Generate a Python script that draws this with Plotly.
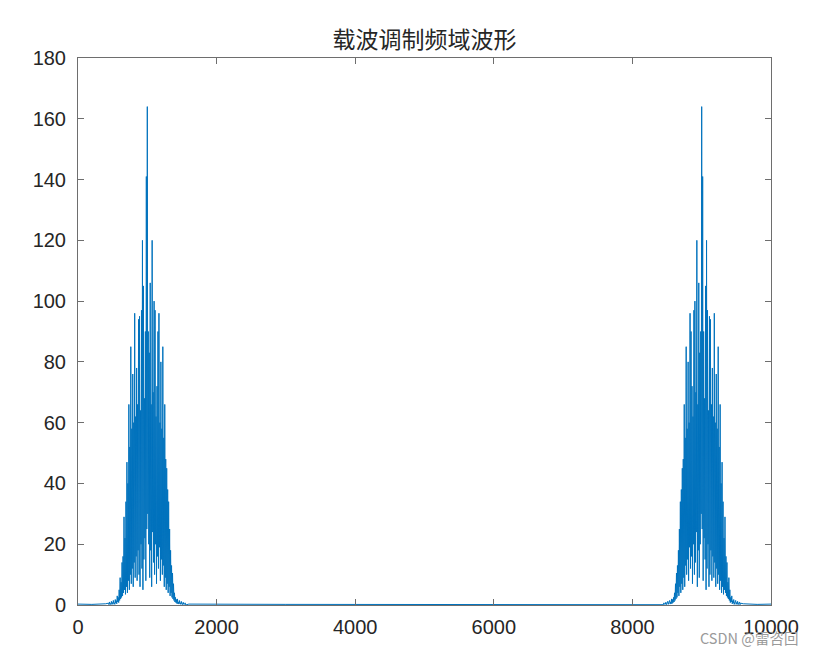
import plotly.graph_objects as go

# ---------------- data ----------------
title_text = "载波调制频域波形"
x_ticks = [0, 2000, 4000, 6000, 8000, 10000]
x_tick_text = ["0", "2000", "4000", "6000", "8000", "10000"]
y_ticks = [0, 20, 40, 60, 80, 100, 120, 140, 160, 180]

# left side-band: frequency bins around the 1000 Hz carrier (every 14 Hz)
left_start = 440
bin_step = 14
# per-bin local maxima (upper excursion of the trace)
left_high = [0.6, 1.0, 0.5, 1.2, 0.8, 1.5, 0.7, 1.8, 1.4, 3.0,
             2.5, 5.0, 9.0, 7.5, 14, 16, 29, 22, 34, 47,
             40, 66, 52, 85, 58, 76, 60, 96, 62, 78,
             66, 94, 95, 64, 97, 120, 105, 68, 90, 141,
             164,
             90, 83, 106, 66, 120, 70, 100, 97, 62, 72,
             90, 96, 60, 80, 58, 85, 55, 66, 48, 45,
             38, 34, 25, 18, 13, 10.5, 7, 4, 2.5, 1.8,
             2.0, 1.0, 1.5, 0.7, 1.2, 0.5, 0.9, 0.4, 0.7, 0.3]
# per-bin local minima (lower excursion of the trace)
left_low = [0.1, 0.3, 0.1, 0.4, 0.2, 0.5, 0.2, 0.6, 0.4, 1.0,
            0.8, 1.5, 2.0, 2.5, 3.0, 4.0, 5.0, 3.5, 6.0, 4.0,
            8.0, 5, 10, 7, 12, 6, 14, 9, 16, 8,
            18, 10, 6, 20, 12, 5, 15, 22, 8, 25,
            30,
            20, 9, 18, 6, 24, 14, 10, 20, 7, 16,
            12, 19, 8, 15, 10, 13, 6, 9, 5, 7,
            4, 6, 3, 4, 2.5, 2, 1.5, 1.0, 0.8, 0.5,
            0.4, 0.3, 0.5, 0.2, 0.4, 0.1, 0.3, 0.2, 0.1, 0.1]

# background floor between the side-bands
floor_freq = [0, 200, 400, 1600, 3000, 5000, 7000, 8400, 9600, 9800, 10000]
floor_mag = [0.3, 0.2, 0.4, 0.3, 0.2, 0.2, 0.2, 0.3, 0.4, 0.2, 0.3]

fs_total = 10000  # the spectrum of a real signal is mirrored about fs/2

# ---------------- build the trace ----------------
def band(start, highs, lows):
    xs, ys = [], []
    for i, (h, l) in enumerate(zip(highs, lows)):
        f = start + i * bin_step
        xs += [f, f + bin_step / 2]
        ys += [h, l]
    return xs, ys

lx, ly = band(left_start, left_high, left_low)
# mirrored (upper) side-band of the FFT
rx = [fs_total - v for v in reversed(lx)]
ry = list(reversed(ly))

pts = list(zip(floor_freq, floor_mag)) + list(zip(lx, ly)) + list(zip(rx, ry))
pts.sort(key=lambda p: p[0])
X = [p[0] for p in pts]
Y = [p[1] for p in pts]

fig = go.Figure()
fig.add_trace(go.Scatter(x=X, y=Y, mode="lines",
                         line=dict(color="#0072BD", width=1.0),
                         hoverinfo="skip", showlegend=False))

axis_common = dict(showgrid=False, zeroline=False, showline=True, automargin=False,
                   linecolor="#6e6e6e", linewidth=1, mirror="ticks",
                   ticks="inside", ticklen=6, tickcolor="#6e6e6e",
                   tickfont=dict(family="Liberation Sans, Arial", size=20, color="#262626"))

# page body has an 8px default margin, so the figure is 808x646 placed at (8, 8)
fig.update_layout(
    width=808, height=646,
    margin=dict(l=70, r=45, t=50, b=49),
    paper_bgcolor="white", plot_bgcolor="white",
    title=dict(text=title_text, xref="paper", x=0.5, xanchor="center",
               yref="container", y=1 - 32 / 646, yanchor="middle",
               font=dict(family="Noto Sans CJK SC", size=23, color="#262626")),
    xaxis=dict(range=[0, 10000], tickvals=x_ticks, ticktext=x_tick_text,
               ticklabelstandoff=4, **axis_common),
    yaxis=dict(range=[0, 180], tickvals=y_ticks, ticklabelstandoff=7, **axis_common),
)
fig.add_annotation(text="CSDN @雷咨回", xref="paper", yref="paper",
                   x=(792 - 70) / 693, y=-32 / 547, xanchor="right", yanchor="middle",
                   showarrow=False,
                   font=dict(family="Noto Sans CJK SC", size=14.5, color="#9a9a9a"))

fig.write_html("out.html")
